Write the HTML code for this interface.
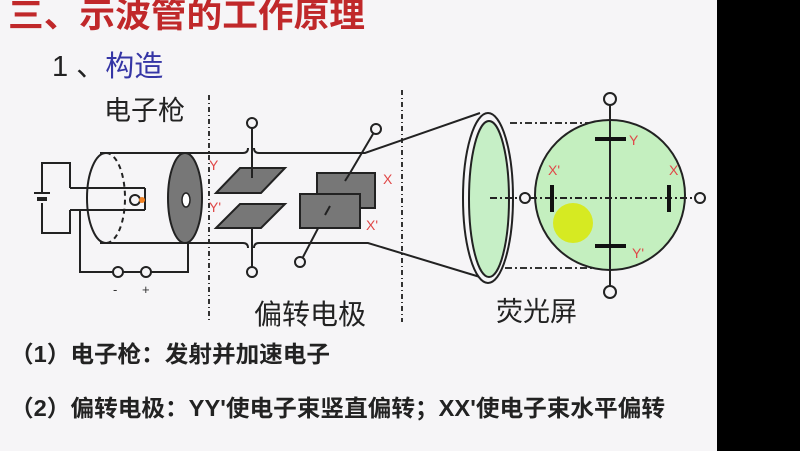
<!DOCTYPE html>
<html><head><meta charset="utf-8"><style>
html,body{margin:0;padding:0;}
body{width:800px;height:451px;overflow:hidden;background:#000;position:relative;font-family:"Liberation Sans","Noto Sans CJK SC",sans-serif;}
#pg{position:absolute;left:0;top:0;width:717px;height:451px;background:#f6f5f7;}
</style></head><body>
<div id="pg"></div>
<svg width="800" height="451" style="position:absolute;left:0;top:0" font-family="Liberation Sans, Noto Sans CJK SC, sans-serif">
<text x="8" y="27" font-size="34" font-weight="bold" fill="#c0282a" textLength="357" lengthAdjust="spacingAndGlyphs">三、示波管的工作原理</text>
<text x="52" y="76" font-size="29" fill="#222">1 、<tspan fill="#3535a5">构造</tspan></text>
<text x="104" y="120" font-size="27" fill="#222">电子枪</text>
<text x="254" y="324" font-size="28" fill="#222">偏转电极</text>
<text x="496" y="321" font-size="27" fill="#222">荧光屏</text>
<text x="10" y="362" font-size="23" font-weight="bold" fill="#222" textLength="320" lengthAdjust="spacingAndGlyphs">（1）电子枪：发射并加速电子</text>
<text x="10" y="416" font-size="23" font-weight="bold" fill="#222" textLength="655" lengthAdjust="spacingAndGlyphs">（2）偏转电极：YY'使电子束竖直偏转；XX'使电子束水平偏转</text>

<g stroke="#333" stroke-width="2" stroke-dasharray="5 3 1 3" fill="none">
<line x1="209" y1="95" x2="209" y2="322"/>
<line x1="402" y1="90" x2="402" y2="322"/>
</g>
<g stroke="#222" stroke-width="2" fill="none">
<path d="M100 153 H243 M259 153 H365 L480 113"/>
<path d="M100 243 H243 M259 243 H368 L480 277"/>
<path d="M243 153 q5 0 5 -5 M259 153 q-5 0 -5 -5 M243 243 q5 0 5 5 M259 243 q-5 0 -5 5"/>
<path d="M106 153 A19 45 0 0 0 106 243"/>
<path d="M106 153 A19 45 0 0 1 106 243" stroke-dasharray="5 4"/>
<path d="M70 188 H145 M70 210 H145 M145 188 V210"/>
<path d="M70 188 V163 H42 V193 M42 203 V233 H70 V210"/>
<line x1="34" y1="193" x2="50" y2="193" stroke-width="2"/>
<line x1="37" y1="199" x2="47" y2="199" stroke-width="4"/>
<path d="M80 210 V272 H113 M123 272 H141 M151 272 H188 V243"/>
<circle cx="118" cy="272" r="5"/><circle cx="146" cy="272" r="5"/>
<circle cx="135" cy="200" r="5"/>
<path d="M252 128 V178 M252 218 V267"/>
<circle cx="252" cy="123" r="5"/><circle cx="252" cy="272" r="5"/>
<path d="M350 173 L373 134 M325 215 L303 257"/>
<circle cx="376" cy="129" r="5"/><circle cx="300" cy="262" r="5"/>
</g>
<circle cx="142" cy="200" r="3" fill="#f08020"/>
<ellipse cx="185" cy="198" rx="17" ry="45" fill="#777" stroke="#222" stroke-width="2"/>
<ellipse cx="186" cy="200" rx="4" ry="7" fill="#fff" stroke="#222" stroke-width="1.5"/>
<g fill="#777" stroke="#222" stroke-width="2">
<polygon points="216,193 240,168 285,168 261,193"/>
<polygon points="216,228 240,204 285,204 261,228"/>
<rect x="317" y="173" width="58" height="35"/>
<rect x="300" y="194" width="60" height="34"/>
</g>
<line x1="252" y1="168" x2="252" y2="178" stroke="#222" stroke-width="2"/>
<line x1="350" y1="173" x2="345" y2="181" stroke="#222" stroke-width="2"/>
<line x1="325" y1="215" x2="330" y2="206" stroke="#222" stroke-width="2"/>
<g fill="#e04848" font-size="14">
<text x="209" y="170">Y</text><text x="209" y="212">Y'</text>
<text x="383" y="184">X</text><text x="366" y="230">X'</text>
</g>
<text x="113" y="294" font-size="13" fill="#333">-</text>
<text x="142" y="294" font-size="13" fill="#333">+</text>
<ellipse cx="488" cy="198" rx="25" ry="85" fill="#f6f5f7" stroke="#222" stroke-width="2"/>
<ellipse cx="489" cy="199" rx="20" ry="78" fill="#c6efc6" stroke="#222" stroke-width="2"/>
<g stroke="#333" stroke-width="2" stroke-dasharray="7 3 2 3" fill="none">
<line x1="510" y1="123" x2="600" y2="123"/>
<line x1="505" y1="268" x2="592" y2="268"/>
</g>
<circle cx="610" cy="195" r="75" fill="#c4efbf" stroke="#222" stroke-width="2"/>
<circle cx="573" cy="223" r="20" fill="#d6ea22"/>
<g stroke="#222" stroke-width="2" fill="none">
<line x1="490" y1="198" x2="520" y2="198" stroke-dasharray="7 3 2 3"/>
<line x1="530" y1="198" x2="695" y2="198" stroke-dasharray="7 3 2 3"/>
<circle cx="525" cy="198" r="5" fill="#f6f5f7"/>
<circle cx="700" cy="198" r="5" fill="#f6f5f7"/>
<line x1="610" y1="105" x2="610" y2="286"/>
<circle cx="610" cy="99" r="6" fill="#f6f5f7"/>
<circle cx="610" cy="292" r="6" fill="#f6f5f7"/>
</g>
<g stroke="#111" stroke-width="4">
<line x1="595" y1="139" x2="626" y2="139"/>
<line x1="595" y1="246" x2="626" y2="246"/>
<line x1="552" y1="185" x2="552" y2="212"/>
<line x1="669" y1="185" x2="669" y2="212"/>
</g>
<g fill="#e04848" font-size="14">
<text x="629" y="145">Y</text><text x="632" y="258">Y'</text>
<text x="548" y="175">X'</text><text x="669" y="175">X</text>
</g>
</svg>
</body></html>
